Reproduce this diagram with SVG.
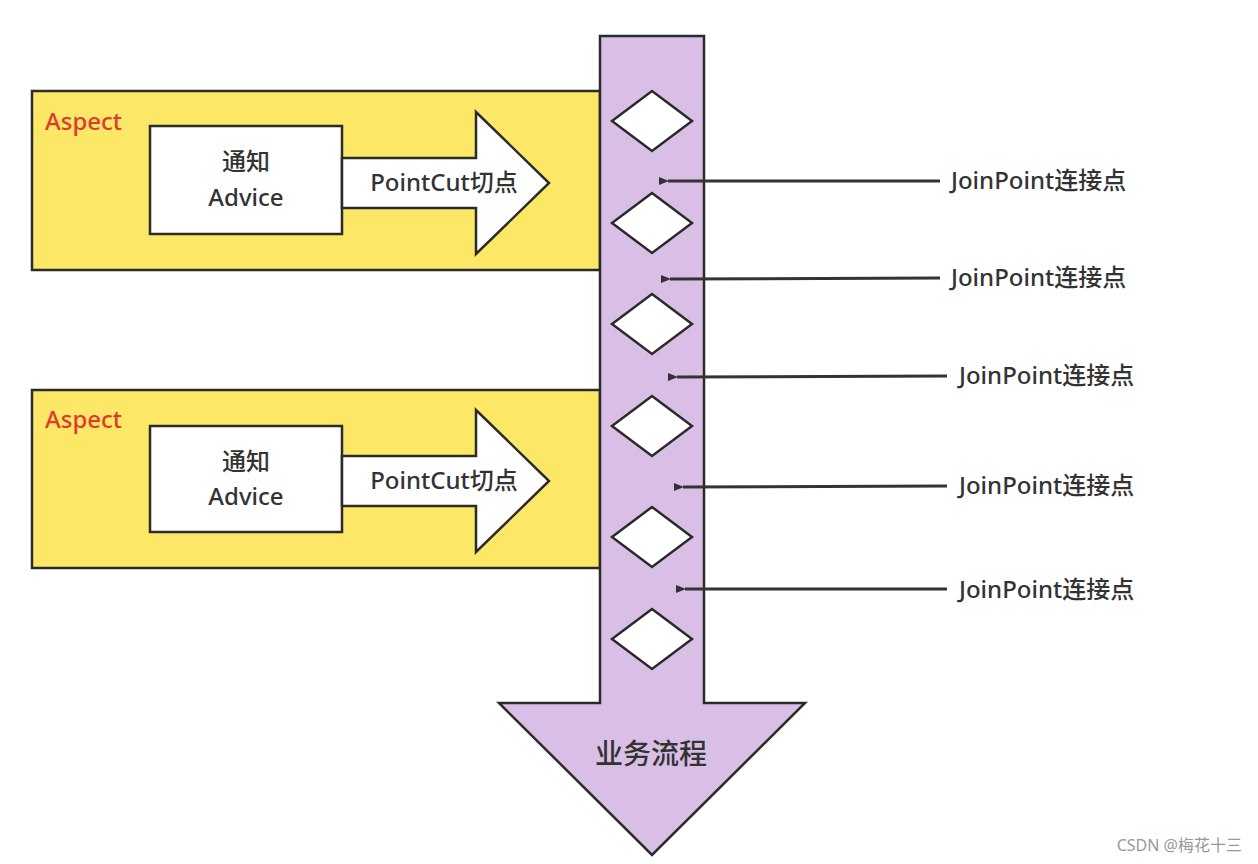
<svg xmlns="http://www.w3.org/2000/svg" width="1258" height="864" viewBox="0 0 1258 864">
<style>
.s{stroke:#2b2b2b;stroke-width:2.5;stroke-linejoin:miter}
.y{fill:#fce866}
.w{fill:#fff}
.t{font-family:"Noto Sans","Noto Sans CJK SC",sans-serif;font-size:24px;fill:#333;font-weight:500}
.r{font-family:"Noto Sans",sans-serif;font-size:24px;fill:#e03a2f;font-weight:500}
.c{stroke:#333;stroke-width:3}
</style>
<defs><marker id="a" markerWidth="10" markerHeight="8" refX="1" refY="4" orient="auto" markerUnits="userSpaceOnUse" viewBox="0 0 10 8"><path d="M10 0L0 4L10 8z" fill="#333"/></marker></defs>
<rect width="1258" height="864" fill="#fff"/>
<g id="aspect1">
<rect class="s y" x="32" y="91" width="568" height="179"/>
<text class="r" x="45" y="130">Aspect</text>
<rect class="s w" x="150" y="126" width="192" height="108"/>
<text class="t" x="246" y="170" text-anchor="middle">通知</text>
<text class="t" x="246" y="206" text-anchor="middle">Advice</text>
<path class="s w" d="M342 158H476V112L549 183L476 254V208H342z"/>
<text class="t" x="444" y="191" text-anchor="middle">PointCut切点</text>
</g>
<g id="aspect2">
<rect class="s y" x="32" y="390" width="568" height="178"/>
<text class="r" x="45" y="428">Aspect</text>
<rect class="s w" x="150" y="426" width="192" height="106"/>
<text class="t" x="246" y="470" text-anchor="middle">通知</text>
<text class="t" x="246" y="505" text-anchor="middle">Advice</text>
<path class="s w" d="M342 456H476V410L549 481L476 552V506H342z"/>
<text class="t" x="444" y="489" text-anchor="middle">PointCut切点</text>
</g>
<g id="flow">
<path class="s" fill="#d9bfe5" d="M600 36H704V703H805L652 855L499 703H600z"/>
<text class="t" x="651" y="764" text-anchor="middle" font-size="28" style="font-size:28px">业务流程</text>
</g>
<g id="joinpoints" class="s w">
<path d="M652 91L692 121L652 151L612 121z"/>
<path d="M652 193L692 223L652 253L612 223z"/>
<path d="M652 294L692 324L652 354L612 324z"/>
<path d="M652 396L692 426L652 456L612 426z"/>
<path d="M652 507L692 537L652 567L612 537z"/>
<path d="M652 609L692 639L652 669L612 639z"/>
</g>
<g id="connectors" class="c" marker-end="url(#a)">
<line x1="940" y1="181" x2="668" y2="181" marker-end="url(#a)"/>
<line x1="940" y1="278" x2="670" y2="279" marker-end="url(#a)"/>
<line x1="947" y1="376" x2="677" y2="377" marker-end="url(#a)"/>
<line x1="947" y1="486" x2="683" y2="487" marker-end="url(#a)"/>
<line x1="947" y1="589" x2="685" y2="589" marker-end="url(#a)"/>
</g>
<g id="labels">
<text class="t" x="951" y="189">JoinPoint连接点</text>
<text class="t" x="951" y="286">JoinPoint连接点</text>
<text class="t" x="959" y="384">JoinPoint连接点</text>
<text class="t" x="959" y="494">JoinPoint连接点</text>
<text class="t" x="959" y="598">JoinPoint连接点</text>
</g>
<text x="1242" y="851" text-anchor="end" font-family="Noto Sans,Noto Sans CJK SC,sans-serif" font-size="16" fill="#999">CSDN @梅花十三</text>
</svg>
